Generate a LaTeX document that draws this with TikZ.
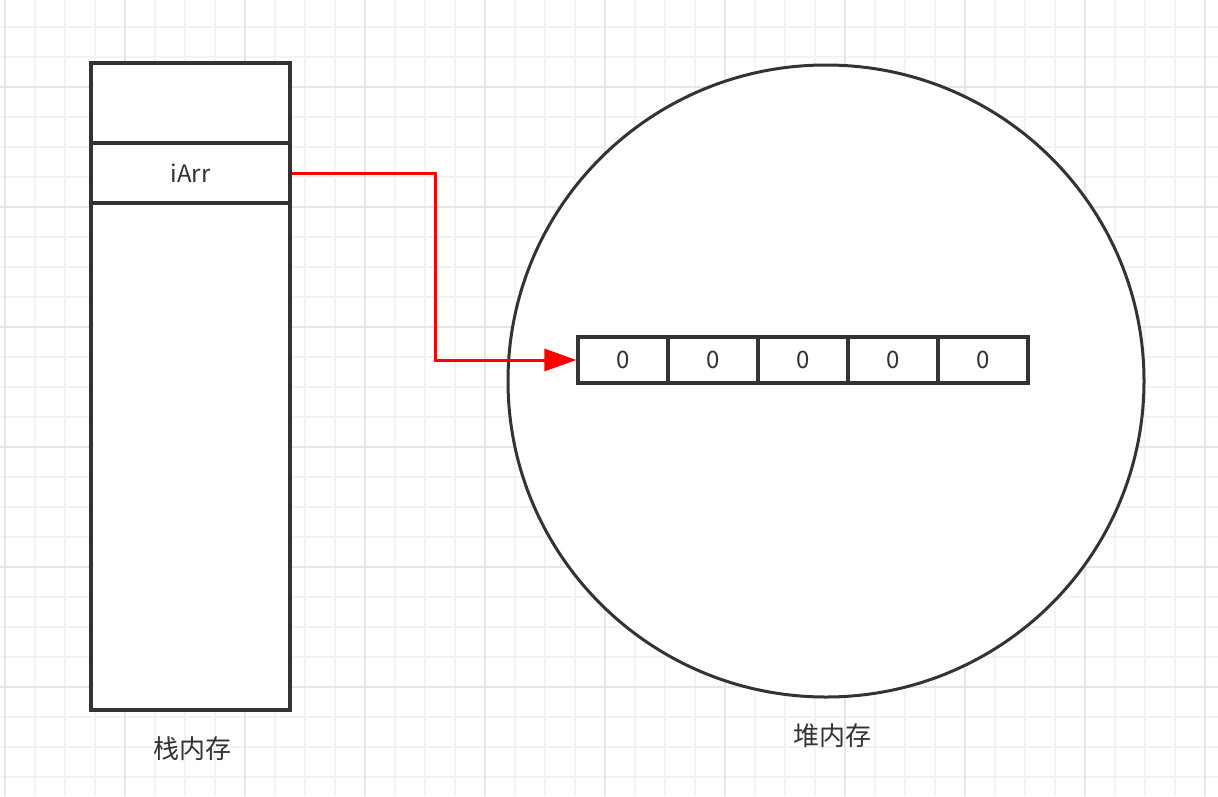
\documentclass[tikz,border=0pt]{standalone}
\usepackage{fontspec}
\setmainfont{Noto Sans CJK SC}
\usetikzlibrary{shapes.geometric,arrows.meta}
\definecolor{gridminor}{HTML}{F3F3F3}
\definecolor{gridmajor}{HTML}{E6E6E6}
\definecolor{edge}{HTML}{333333}
\definecolor{arrowred}{HTML}{FF0000}
\tikzset{
  cell/.style={draw=edge, line width=3.2pt, fill=white, inner sep=0pt, font=\fontsize{24}{28}\selectfont, text=edge},
  heapshape/.style={draw=edge, line width=3pt, fill=white, ellipse, inner sep=0pt},
  label/.style={font=\fontsize{26}{30}\selectfont, text=edge},
  pointer/.style={draw=arrowred, line width=3pt, -{Triangle[length=32pt,width=22pt]}},
}
\begin{document}
\begin{tikzpicture}[x=1pt,y=-1pt]
\useasboundingbox (0,0) rectangle (1218,796);
\fill[white] (0,0) rectangle (1218,796);
% grid
\foreach \i in {0,...,40} {
  \pgfmathsetmacro{\xx}{5+30*\i}
  \draw[gridminor, line width=1.2pt] (\xx,0) -- (\xx,796);
}
\foreach \j in {0,...,26} {
  \pgfmathsetmacro{\yy}{27+30*\j}
  \draw[gridminor, line width=1.2pt] (0,\yy) -- (1218,\yy);
}
\foreach \i in {0,...,10} {
  \pgfmathsetmacro{\xx}{5+120*\i}
  \draw[gridmajor, line width=1.2pt] (\xx,0) -- (\xx,796);
}
\foreach \j in {0,...,6} {
  \pgfmathsetmacro{\yy}{87+120*\j}
  \draw[gridmajor, line width=1.2pt] (0,\yy) -- (1218,\yy);
}
% stack
\node[cell, minimum width=199pt, minimum height=507pt] (rest) at (190.5,456.5) {};
\node[cell, minimum width=199pt, minimum height=80pt] (top) at (190.5,103) {};
\node[cell, minimum width=199pt, minimum height=60pt] (iarr) at (190.5,173) {iArr};
\node[label] (stacklabel) at (192,749) {栈内存};
% heap
\node[heapshape, minimum width=636pt, minimum height=632pt] (heap) at (826,381) {};
\node[label] (heaplabel) at (832,736) {堆内存};
% array
\foreach \k/\cx in {1/623,2/713,3/803,4/893,5/983} {
  \node[cell, minimum width=90pt, minimum height=46pt] (c\k) at (\cx,360) {0};
}
% pointer
\draw[pointer] (iarr.east) -- ++(144,0) |- (c1.west);
\end{tikzpicture}
\end{document}
